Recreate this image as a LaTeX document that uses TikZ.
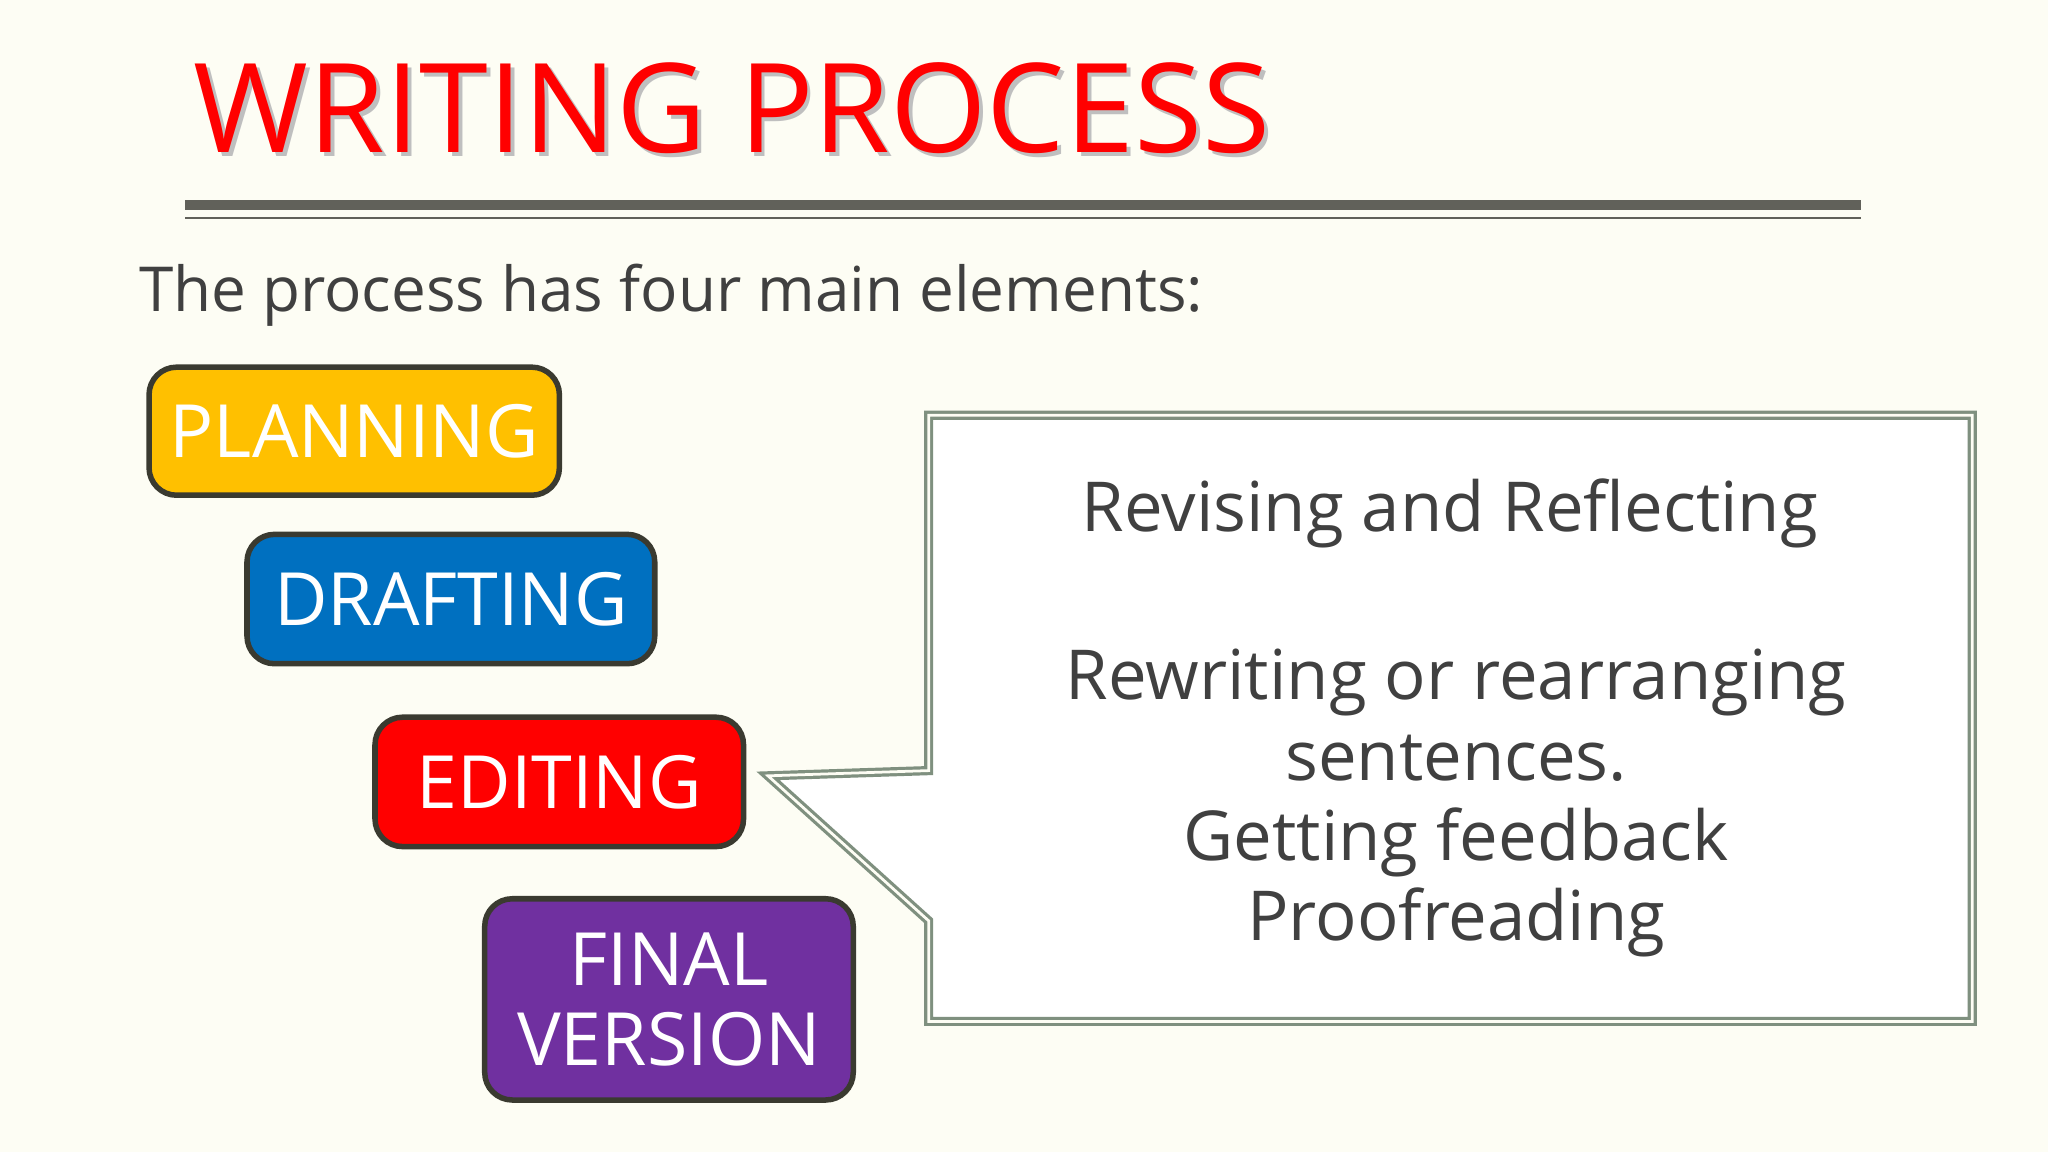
\documentclass[tikz,border=0pt]{standalone}
\usepackage{fontspec}
\setmainfont{Open Sans}
\definecolor{bg}{HTML}{FDFDF4}
\definecolor{txt}{HTML}{404040}
\definecolor{edge}{HTML}{3A3A30}
\definecolor{callout}{HTML}{7F907F}
\definecolor{yel}{HTML}{FFC000}
\definecolor{blu}{HTML}{0070C0}
\definecolor{rd}{HTML}{FF0000}
\definecolor{pur}{HTML}{7030A0}
\begin{document}
\begin{tikzpicture}[x=0.01cm,y=-0.01cm,
  btn/.style={draw=edge,line width=1.2pt,rounded corners=6pt,text=white,align=center,inner sep=0pt,anchor=north west,font=\fontsize{16}{18}\selectfont},
  body/.style={text=txt,font=\fontsize{15}{17}\selectfont,align=center}]
\fill[bg] (0,0) rectangle (1568,882);
\useasboundingbox (0,0) rectangle (1568,882);
% title
\node[text=gray!50,font=\fontsize{27}{32}\selectfont,anchor=west] (tsh) at (139,86) {WRITING PROCESS};
\node[text=rd,font=\fontsize{27}{32}\selectfont,anchor=west] (title) at (136,83) {WRITING PROCESS};
\draw[edge!80,line width=2.2pt] (142,157) -- (1425,157);
\draw[edge!80,line width=0.6pt] (142,167) -- (1425,167);
\node[text=txt,font=\fontsize{13.5}{16}\selectfont,anchor=west] (intro) at (94,226) {The process has four main elements:};
% buttons
\node[btn,fill=yel,minimum width=3.14cm,minimum height=0.98cm] (plan) at (112,279) {PLANNING};
\node[btn,fill=blu,minimum width=3.12cm,minimum height=0.99cm] (draft) at (187,407) {DRAFTING};
\node[btn,fill=rd,minimum width=2.82cm,minimum height=0.99cm] (edit) at (285,547) {EDITING};
\node[btn,fill=pur,minimum width=2.82cm,minimum height=1.54cm,font=\fontsize{16}{17.5}\selectfont] (final) at (369,686) {FINAL\\VERSION};
% callout
\draw[callout,double=bg,double distance=0.6pt,line width=0.7pt,fill=white]
  (711,318) -- (1510,318) -- (1510,782) -- (711,782) -- (711,705) -- (588,594) -- (711,590) -- cycle;
\node[body] (t1) at (1110,393) {Revising and Reflecting};
\node[body,font=\fontsize{15}{17.5}\selectfont] (t2) at (1115,615) {Rewriting or rearranging\\sentences.\\Getting feedback\\Proofreading};
\end{tikzpicture}
\end{document}
